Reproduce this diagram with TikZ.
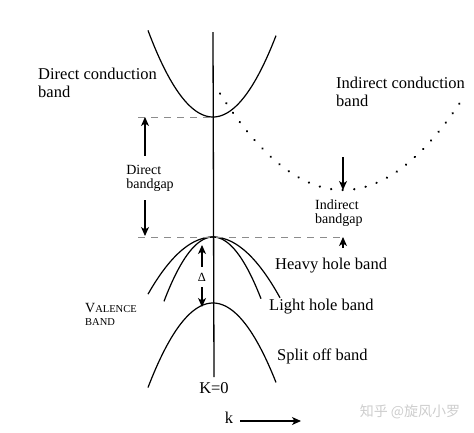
\documentclass[tikz,border=0pt]{standalone}
\usepackage{fontspec}
\setmainfont{Liberation Serif}
\newfontfamily\cjkfont{Noto Sans CJK SC}
\usepackage{xcolor}
\definecolor{gapgray}{HTML}{8C8C8C}
\definecolor{markgray}{HTML}{CDCDCD}
\usepackage{tikz}
\usetikzlibrary{arrows.meta,positioning}

\begin{document}
\begin{tikzpicture}[x=1pt,y=-1pt,
  band/.style={line width=1.2pt},
  gapline/.style={gapgray,line width=0.9pt,dash pattern=on 7pt off 6pt},
  arr/.style={line width=1.1pt,-{Stealth[length=9pt,width=8pt,inset=2.5pt]}},
  lbl/.style={font=\fontsize{16.5}{18.5}\selectfont,align=left,inner sep=0pt,anchor=west},
  smalllbl/.style={font=\fontsize{14}{13.8}\selectfont,align=left,inner sep=0pt}]
\useasboundingbox (0,0) rectangle (474,432);
\coordinate (axtop) at (213,32);
\coordinate (cbmin) at (213,117);
\coordinate (vbtop) at (213,237);
\coordinate (icbmin) at (343,190);
\coordinate (dgl) at (138,117);
\coordinate (vgl) at (138,237);
\coordinate (vgr) at (340,237);
\coordinate (dtip) at (145,117);
\coordinate (dbtip) at (145,236);
\coordinate (itail) at (343,157);
\coordinate (ivtail) at (343,248);
\coordinate (ivtip) at (343,237);
\coordinate (deltatop) at (202,245);
\coordinate (deltabot) at (202,307);
\coordinate (kend) at (301,421);

\draw[band] plot[domain=-65:63,samples=60] ({213+\x},{117-0.0205*\x*\x});
\draw[band,line cap=round,dash pattern=on 0.1pt off 11.5pt,line width=2.4pt]
  plot[domain=-123:122,samples=80] ({343+\x},{190-0.00638*\x*\x});
\draw[band] plot[domain=-65:67,samples=60] ({213+\x},{237+0.01354*\x*\x});
\draw[band] plot[domain=-49:48,samples=60] ({213+\x},{237+0.0268*\x*\x});
\draw[band] plot[domain=-65:63,samples=60] ({213+\x},{303+0.02*\x*\x});

\draw[gapline] (dgl) -- (cbmin);
\draw[gapline] (vgl) -- (vgr);

\node[inner sep=5pt,font=\fontsize{16.5}{18}\selectfont] (k0) at (214,388) {K=0};
\draw[line width=1.3pt] (axtop) -- (k0.north);

\node[lbl] (direct) at (38,83) {Direct conduction\\band};
\node[lbl] (indirect) at (336,92) {Indirect conduction\\band};
\node[smalllbl,inner sep=9pt] (dgap) at (150,178) {Direct\\bandgap};
\draw[arr] (dgap.north -| dtip) -- (dtip);
\draw[arr] (dgap.south -| dbtip) -- (dbtip);
\node[smalllbl,anchor=west] (igap) at (315,213) {Indirect\\bandgap};
\draw[arr] (itail) -- (icbmin);
\draw[arr] (ivtail) -- (ivtip);

\node[inner sep=6pt,font=\fontsize{12.5}{12}\selectfont] (delta) at (202,277) {Δ};
\draw[arr] (delta) -- (deltatop);
\draw[arr] (delta) -- (deltabot);

\node[lbl] (heavy) at (275,266) {Heavy hole band};
\node[lbl] (light) at (269,307) {Light hole band};
\node[lbl] (split) at (277,356) {Split off band};
\node[lbl,font=\fontsize{10.5}{13}\selectfont] (valence) at (85,314)
  {{\fontsize{14}{13}\selectfont V}ALENCE\\BAND};

\node[inner sep=3pt,font=\fontsize{16.5}{18}\selectfont] (klab) at (229,418) {k};
\draw[arr,shorten <=4pt] (klab.east |- kend) -- (kend);

\node[text=markgray,font=\cjkfont\fontsize{14}{14}\selectfont] (mark) at (410,412) {知乎 @旋风小罗};
\end{tikzpicture}
\end{document}
